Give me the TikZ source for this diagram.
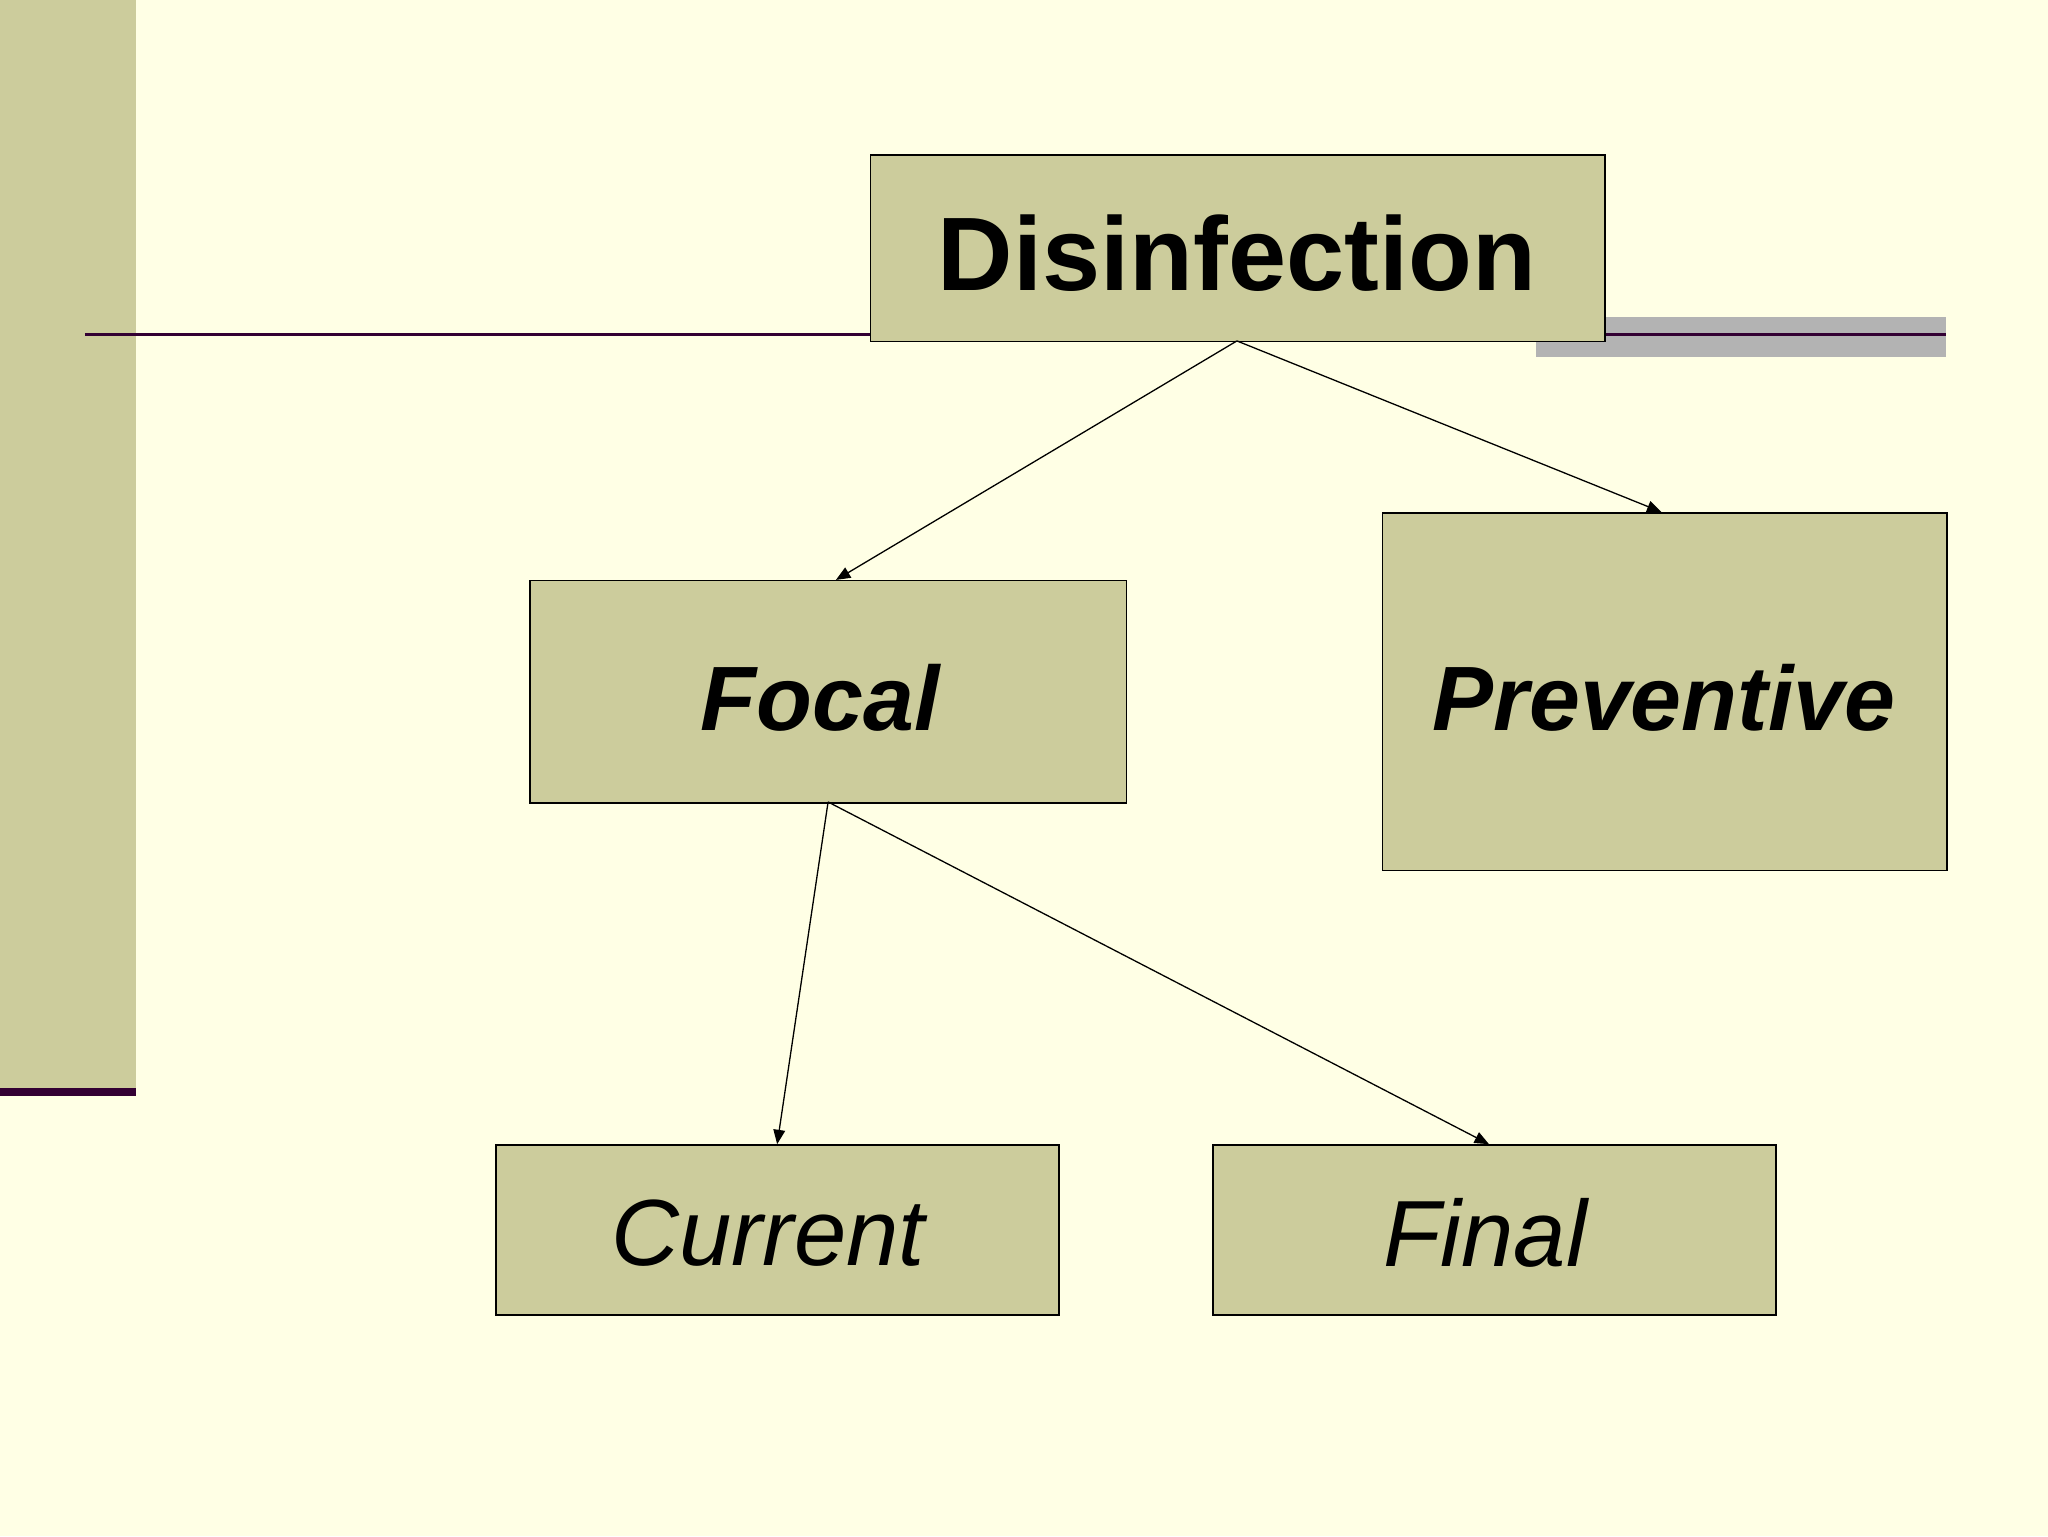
\documentclass[tikz,border=0pt]{standalone}
\usepackage{fontspec}
\setmainfont{Liberation Sans}
\usetikzlibrary{arrows.meta}
\definecolor{bg}{HTML}{FFFFE5}
\definecolor{olive}{HTML}{CCCC9C}
\definecolor{plum}{HTML}{330033}
\definecolor{grayb}{HTML}{B3B3B3}
\tikzset{box/.style={draw=black,line width=1.2pt,fill=olive,inner sep=0pt,anchor=north west},
 conn/.style={line width=1pt,-{Triangle[length=11pt,width=9pt]}}}
\begin{document}
\begin{tikzpicture}[x=1pt,y=-1pt]
\fill[bg] (0,0) rectangle (1568,1176);
\useasboundingbox (0,0) rectangle (1568,1176);
\fill[olive] (0,0) rectangle (104,833);
\fill[plum] (0,833) rectangle (104,839);
\fill[grayb] (1176,243) rectangle (1490,273);
\draw[plum,line width=2.5pt] (65,256) -- (1490,256);
\node[box,minimum width=562pt,minimum height=143pt] (dis) at (666,118) {};
\node[font=\fontsize{80}{90}\selectfont\bfseries] at (947,194) {Disinfection};
\node[box,minimum width=457pt,minimum height=170pt] (foc) at (405,444) {};
\node[font=\fontsize{70}{80}\selectfont\bfseries\itshape] at (628,534) {Focal};
\node[box,minimum width=432pt,minimum height=274pt] (pre) at (1058,392) {};
\node[font=\fontsize{70}{80}\selectfont\bfseries\itshape] at (1274,534) {Preventive};
\node[box,minimum width=431pt,minimum height=130pt] (cur) at (379,876) {};
\node[font=\fontsize{72}{80}\selectfont\itshape] at (588,944) {Current};
\node[box,minimum width=431pt,minimum height=130pt] (fin) at (928,876) {};
\node[font=\fontsize{72}{80}\selectfont\itshape] at (1137,944) {Final};
\coordinate (d1) at (947,261);
\coordinate (f1) at (634,614);
\draw[conn] (d1) -- (640,444);
\draw[conn] (d1) -- (1272,392);
\draw[conn] (f1) -- (595,876);
\draw[conn] (f1) -- (1140,876);
\end{tikzpicture}
\end{document}
